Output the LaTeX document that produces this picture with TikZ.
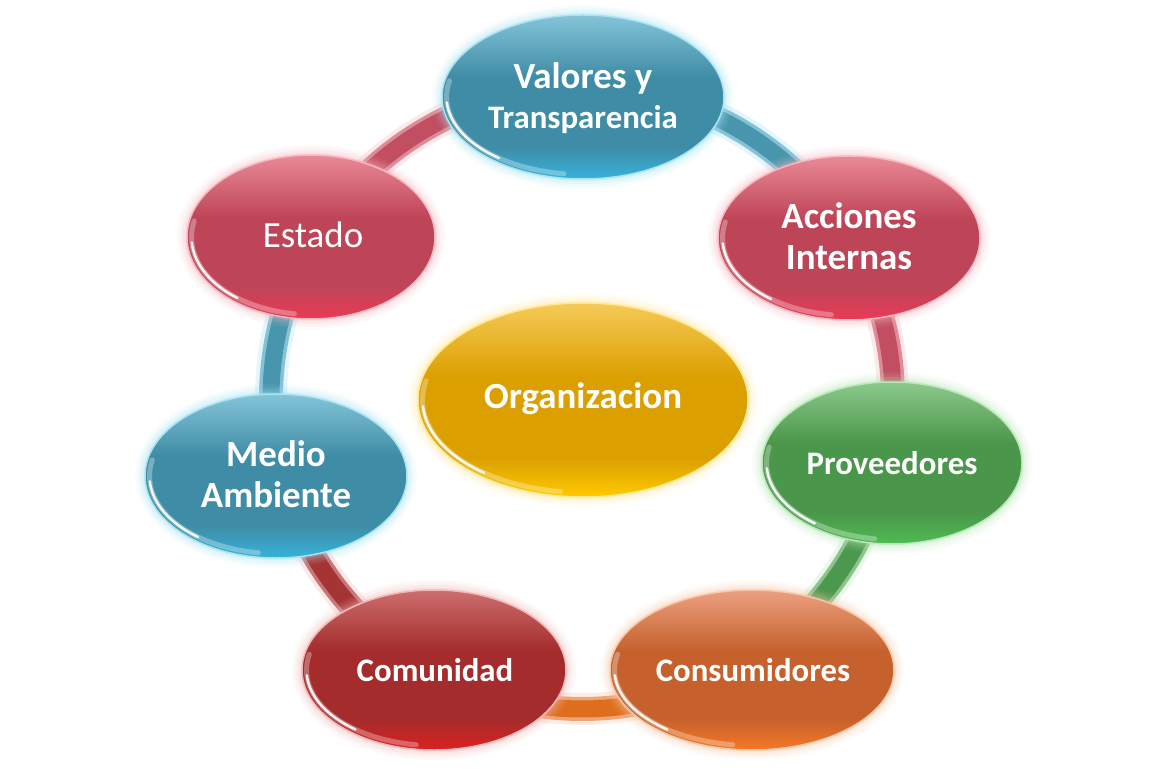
\documentclass[tikz,border=0pt]{standalone}
\usepackage{fontspec}
\setmainfont{Carlito}
\newdimen\pxu \pxu=0.02cm
% colour families: top / mid / bot / glow / ring / ring edge
\definecolor{bluetop}{HTML}{84C4D8}\definecolor{bluemid}{HTML}{3F8CA6}\definecolor{bluebot}{HTML}{36B2DA}\definecolor{blueglow}{HTML}{A8E4F4}\definecolor{bluering}{HTML}{4896AE}\definecolor{blueedge}{HTML}{86C2D6}
\definecolor{redtop}{HTML}{EA8A96}\definecolor{redmid}{HTML}{BE4558}\definecolor{redbot}{HTML}{EA3A55}\definecolor{redglow}{HTML}{F7B8C0}\definecolor{redring}{HTML}{C24E61}\definecolor{rededge}{HTML}{DE8A97}
\definecolor{greentop}{HTML}{8CC98C}\definecolor{greenmid}{HTML}{4A964A}\definecolor{greenbot}{HTML}{4EBB52}\definecolor{greenglow}{HTML}{B8E8B8}\definecolor{greenring}{HTML}{4D984F}\definecolor{greenedge}{HTML}{8CC48C}
\definecolor{orangetop}{HTML}{ECA080}\definecolor{orangemid}{HTML}{C6612D}\definecolor{orangebot}{HTML}{F47824}\definecolor{orangeglow}{HTML}{F8C8A8}\definecolor{orangering}{HTML}{DE6E1E}\definecolor{orangeedge}{HTML}{EEA474}
\definecolor{dredtop}{HTML}{CE6E6E}\definecolor{dredmid}{HTML}{A42C2C}\definecolor{dredbot}{HTML}{DC2020}\definecolor{dredglow}{HTML}{F2B8B8}\definecolor{dredring}{HTML}{A53434}\definecolor{drededge}{HTML}{C87676}
\definecolor{yeltop}{HTML}{F6CA58}\definecolor{yelmid}{HTML}{DBA000}\definecolor{yelbot}{HTML}{FFCA00}\definecolor{yelglow}{HTML}{FFE890}
\newcommand\mkshade[1]{\pgfdeclareverticalshading{#1shade}{100bp}{color(0bp)=(#1bot); color(25bp)=(#1bot); color(35bp)=(#1mid); color(56bp)=(#1mid); color(75bp)=(#1top); color(100bp)=(#1top)}}
\mkshade{blue}\mkshade{red}\mkshade{green}\mkshade{orange}\mkshade{dred}\mkshade{yel}
\newcommand\myblob[5]{%
  \begin{scope}
    \foreach \w/\o in {20/0.07,15/0.10,10/0.15,5/0.22}{
      \draw[#5glow, line width=\w\pxu, opacity=\o] (#1,#2) ellipse [x radius=#3, y radius=#4];}
    \shade[shading=#5shade] (#1,#2) ellipse [x radius=#3, y radius=#4];
    \draw[#5glow, line width=1.5\pxu] (#1,#2) ellipse [x radius=#3, y radius=#4];
    \pgfmathsetmacro\hx{#3-4.5}\pgfmathsetmacro\hy{#4-4.5}
    \draw[white, opacity=0.3, line width=5\pxu, line cap=round] (#1,#2) ++({\hx*cos(168)},{\hy*sin(168)}) arc[start angle=168, end angle=262, x radius=\hx, y radius=\hy];
    \draw[white, opacity=0.9, line width=2.5\pxu, line cap=round] (#1,#2) ++({\hx*cos(184)},{\hy*sin(184)}) arc[start angle=184, end angle=232, x radius=\hx, y radius=\hy];
  \end{scope}}
\newcommand\myseg[3]{% start angle, end angle, colour prefix
  \draw[#3glow, opacity=0.3, line width=32\pxu] (ringc) ++(#1:311) arc[start angle=#1, end angle=#2, radius=311];
  \draw[#3edge, line width=24\pxu] (ringc) ++(#1:311) arc[start angle=#1, end angle=#2, radius=311];
  \draw[#3ring, line width=17\pxu] (ringc) ++(#1:311) arc[start angle=#1, end angle=#2, radius=311];}
\begin{document}
\begin{tikzpicture}[x=0.02cm, y=0.02cm,
  txt/.style={text=white, align=center, font=\bfseries\fontsize{21}{23}\selectfont},
  txtsmall/.style={txt, font=\bfseries\fontsize{18.7}{22}\selectfont}]
  \useasboundingbox[fill=white] (0,0) rectangle (1169,768);
  \coordinate (ringc) at (582,370);
  % ring segments (clockwise from the top)
  \myseg{90}{31.3}{blue}
  \myseg{31.3}{-11.7}{red}
  \myseg{-11.7}{-58.1}{green}
  \myseg{-58.1}{-118.6}{orange}
  \myseg{-118.6}{-166.1}{dred}
  \myseg{193.9}{149}{blue}
  \myseg{149}{90}{red}
  % ellipses
  \myblob{583}{368}{165}{97}{yel}
  \myblob{583}{671}{141}{82}{blue}
  \myblob{849}{530}{131}{82}{red}
  \myblob{892}{305}{130}{81}{green}
  \myblob{752}{98}{142}{80}{orange}
  \myblob{434}{98}{132}{80}{dred}
  \myblob{276}{292}{131}{82}{blue}
  \myblob{311}{531}{124}{82}{red}
  % texts
  \node[txt] (org) at (583,369) {Organizacion};
  \node[txt] (val) at (583,670) {Valores y\\{\fontsize{18.7}{22}\selectfont Transparencia}};
  \node[txt] (acc) at (849,532) {Acciones\\Internas};
  \node[txtsmall] (pro) at (892,305) {Proveedores};
  \node[txtsmall] (con) at (753,98) {Consumidores};
  \node[txtsmall] (com) at (435,98) {Comunidad};
  \node[txt] (med) at (276,294) {Medio\\Ambiente};
  \node[txt, font=\fontsize{21}{23}\selectfont] (est) at (313,533) {Estado};
\end{tikzpicture}
\end{document}
